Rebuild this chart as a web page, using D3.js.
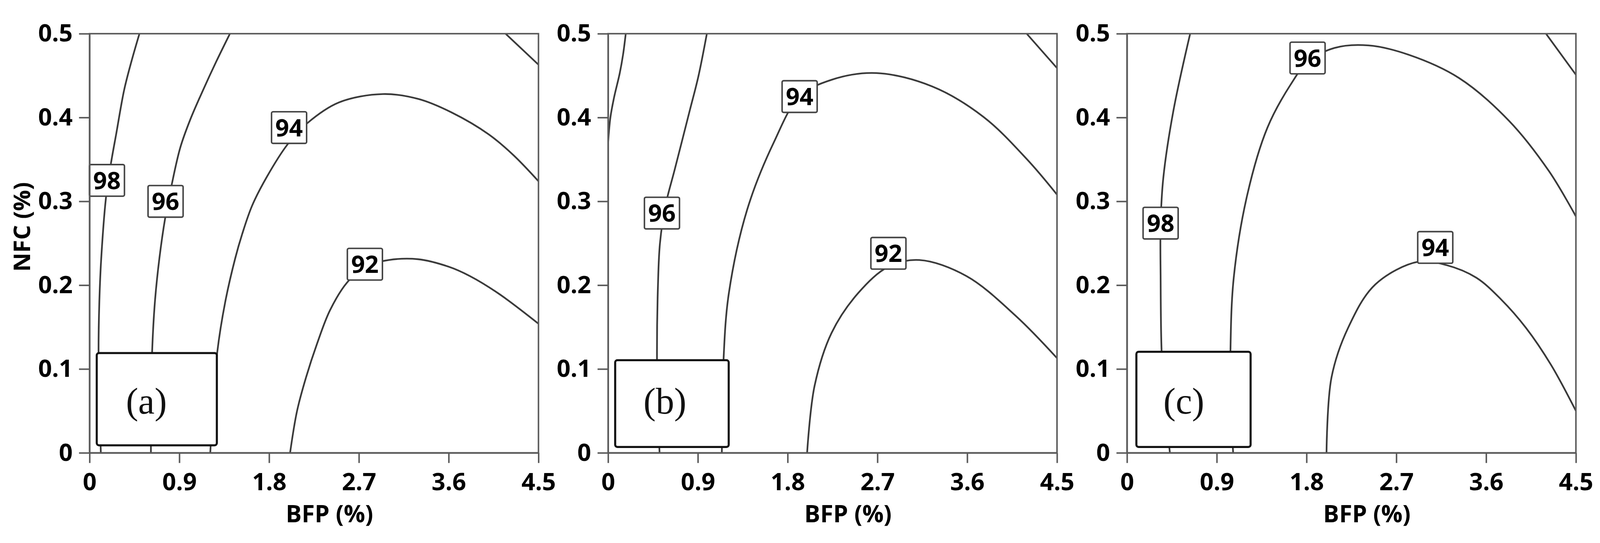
<!DOCTYPE html>
<html>
<head>
<meta charset="utf-8">
<script src="https://cdn.jsdelivr.net/npm/d3@7"></script>
<style>
  html, body { margin: 0; padding: 0; width: 100%; height: 100%; overflow: hidden; background: #fff; }
  svg { display: block; width: 100vw; height: 100vh; }
</style>
</head>
<body>
<svg id="chart"></svg>
<script>
// axis ticks
const bfpTicks = [0, 0.9, 1.8, 2.7, 3.6, 4.5];
const nfcTicks = [0, 0.1, 0.2, 0.3, 0.4, 0.5];
const panelNames = ["(a)", "(b)", "(c)"];

// contour lines, [BFP, NFC]
const a98 = [[0.50,0.5],[0.42,0.467],[0.347,0.433],[0.268,0.381],[0.214,0.345],[0.166,0.306],[0.117,0.232],[0.098,0.18],[0.09,0.12],[0.097,0.07],[0.113,0]];
const a96 = [[1.407,0.5],[1.271,0.467],[1.139,0.433],[1.011,0.398],[0.909,0.364],[0.822,0.319],[0.758,0.28],[0.70,0.232],[0.655,0.18],[0.627,0.12],[0.617,0.06],[0.615,0]];
const a94 = [[1.21,0],[1.24,0.06],[1.28,0.12],[1.36,0.18],[1.46,0.232],[1.53,0.261],[1.63,0.295],[1.776,0.329],[1.985,0.368],[2.18,0.393],[2.5,0.418],[2.94,0.428],[3.3,0.422],[3.63,0.406],[4.0,0.38],[4.25,0.355],[4.5,0.324]];
const a92 = [[2.01,0],[2.08,0.05],[2.17,0.09],[2.28,0.13],[2.41,0.17],[2.58,0.203],[2.76,0.222],[3.0,0.23],[3.29,0.231],[3.6,0.222],[3.81,0.211],[4.1,0.19],[4.5,0.154]];
const a96top = [[4.17,0.5],[4.5,0.463]];

const b98 = [[0.177,0.5],[0.15,0.475],[0.117,0.453],[0.06,0.424],[0.023,0.4],[0,0.37]];
const b96 = [[0.99,0.5],[0.905,0.449],[0.82,0.409],[0.668,0.338],[0.575,0.295],[0.52,0.25],[0.50,0.2],[0.49,0.113],[0.50,0.05],[0.516,0]];
const b94 = [[1.14,0],[1.15,0.06],[1.158,0.113],[1.21,0.19],[1.394,0.29],[1.66,0.37],[1.92,0.425],[2.24,0.445],[2.69,0.453],[3.25,0.437],[3.76,0.401],[4.20,0.35],[4.5,0.308]];
const b92 = [[1.995,0],[2.07,0.08],[2.24,0.143],[2.51,0.191],[2.81,0.222],[3.12,0.230],[3.59,0.211],[4.09,0.163],[4.5,0.113]];
const b96top = [[4.196,0.5],[4.5,0.459]];

const c98 = [[0.633,0.5],[0.465,0.408],[0.364,0.328],[0.337,0.274],[0.337,0.209],[0.347,0.121],[0.38,0.06],[0.43,0]];
const c96 = [[1.064,0],[1.04,0.06],[1.037,0.121],[1.07,0.209],[1.206,0.308],[1.408,0.388],[1.644,0.44],[1.81,0.466],[2.08,0.483],[2.42,0.486],[2.82,0.475],[3.33,0.447],[3.83,0.396],[4.23,0.336],[4.5,0.282]];
const c94 = [[2.0,0],[2.05,0.09],[2.216,0.149],[2.49,0.201],[2.92,0.228],[3.2,0.224],[3.5,0.209],[3.75,0.183],[4.0,0.149],[4.25,0.105],[4.5,0.05]];
const c96top = [[4.2,0.5],[4.5,0.451]];

// contour labels: [level, BFP, NFC]
const labelsA = [[98,0.174,0.325],[96,0.762,0.300],[94,2.0,0.388],[92,2.76,0.225]];
const labelsB = [[96,0.54,0.286],[94,1.92,0.425],[92,2.81,0.238]];
const labelsC = [[98,0.337,0.274],[96,1.81,0.471],[94,3.09,0.245]];

const panels = [
    { name: panelNames[0], lines: [a98, a96, a94, a92, a96top], labels: labelsA },
    { name: panelNames[1], lines: [b98, b96, b94, b92, b96top], labels: labelsB },
    { name: panelNames[2], lines: [c98, c96, c94, c96top], labels: labelsC }
];

// panel-name box, in data units [x0, x1, y0, y1]
const nameBoxes = [[0.072, 1.276, 0.009, 0.119], [0.071, 1.209, 0.007, 0.1105], [0.094, 1.239, 0.007, 0.1205]];

const W = 4252, H = 1389;
const svg = d3.select("#chart")
    .attr("viewBox", `0 0 ${W} ${H}`)
    .attr("preserveAspectRatio", "xMidYMid meet");
svg.append("rect").attr("width", W).attr("height", H).attr("fill", "#fff");

const lefts = [238, 1616, 2995];
const pw = 1193, plotTop = 63, plotBottom = 1176;
const ph = plotBottom - plotTop;
const font = "'Open Sans', 'DejaVu Sans', sans-serif";

panels.forEach((p, i) => {
    const x = d3.scaleLinear().domain([0, 4.5]).range([0, pw]);
    const y = d3.scaleLinear().domain([0, 0.5]).range([ph, 0]);
    const g = svg.append("g").attr("transform", `translate(${lefts[i]},${plotTop})`);

    g.append("clipPath").attr("id", "clip" + i)
        .append("rect").attr("width", pw).attr("height", ph);

    const line = d3.line()
        .x(d => x(d[0]))
        .y(d => y(d[1]))
        .curve(d3.curveCatmullRom.alpha(0.5));

    g.append("g").attr("clip-path", `url(#clip${i})`)
        .selectAll("path")
        .data(p.lines)
        .join("path")
        .attr("d", line)
        .attr("fill", "none")
        .attr("stroke", "#3a3a3a")
        .attr("stroke-width", 4.5);

    // contour labels
    const lab = g.selectAll("g.lab")
        .data(p.labels)
        .join("g")
        .attr("class", "lab")
        .attr("transform", d => `translate(${x(d[1])},${y(d[2])})`);
    lab.append("rect");
    lab.append("text")
        .text(d => d[0])
        .attr("text-anchor", "middle")
        .attr("dy", "0.36em")
        .attr("font-family", font)
        .attr("font-weight", "bold")
        .attr("font-size", 64)
        .attr("fill", "#000");
    lab.each(function () {
        const tw = d3.select(this).select("text").node().getComputedTextLength();
        d3.select(this).select("rect")
            .attr("x", -(tw + 20) / 2).attr("y", -42)
            .attr("width", tw + 20).attr("height", 84)
            .attr("rx", 4)
            .attr("fill", "#fff")
            .attr("stroke", "#444")
            .attr("stroke-width", 4);
    });

    // panel name box
    const nb = nameBoxes[i];
    g.append("rect")
        .attr("x", x(nb[0])).attr("y", y(nb[3]))
        .attr("width", x(nb[1]) - x(nb[0]))
        .attr("height", y(nb[2]) - y(nb[3]))
        .attr("rx", 6)
        .attr("fill", "#fff")
        .attr("stroke", "#111")
        .attr("stroke-width", 5.5);
    g.append("text")
        .attr("x", x(0.57)).attr("y", y(0.047))
        .attr("text-anchor", "middle")
        .attr("font-family", "'Liberation Serif', 'Times New Roman', serif")
        .attr("font-size", 98)
        .attr("fill", "#111")
        .text(p.name);

    // frame
    g.append("rect")
        .attr("width", pw).attr("height", ph)
        .attr("fill", "none")
        .attr("stroke", "#5a5a5a")
        .attr("stroke-width", 4);

    const xAxis = g.append("g")
        .attr("transform", `translate(0,${ph})`)
        .call(d3.axisBottom(x).tickValues(bfpTicks).tickSize(27).tickSizeOuter(0).tickPadding(27).tickFormat(d => String(d)));
    const yAxis = g.append("g")
        .call(d3.axisLeft(y).tickValues(nfcTicks).tickSize(28).tickSizeOuter(0).tickPadding(17).tickFormat(d => String(d)));

    [xAxis, yAxis].forEach(ax => {
        ax.attr("font-family", font).attr("font-size", 64).attr("font-weight", "bold");
        ax.selectAll("path, line").attr("stroke", "#5a5a5a").attr("stroke-width", 4);
        ax.selectAll("text").attr("fill", "#000");
    });

    g.append("text")
        .attr("x", pw / 2 + 41).attr("y", 1360 - plotTop)
        .attr("text-anchor", "middle")
        .attr("font-family", font)
        .attr("font-weight", "bold")
        .attr("font-size", 63)
        .attr("fill", "#000")
        .text("BFP (%)");
});

svg.append("text")
    .attr("transform", "translate(80,576) rotate(-90)")
    .attr("text-anchor", "middle")
    .attr("font-family", font)
    .attr("font-weight", "bold")
    .attr("font-size", 62)
    .attr("fill", "#000")
    .text("NFC (%)");
</script>
</body>
</html>
